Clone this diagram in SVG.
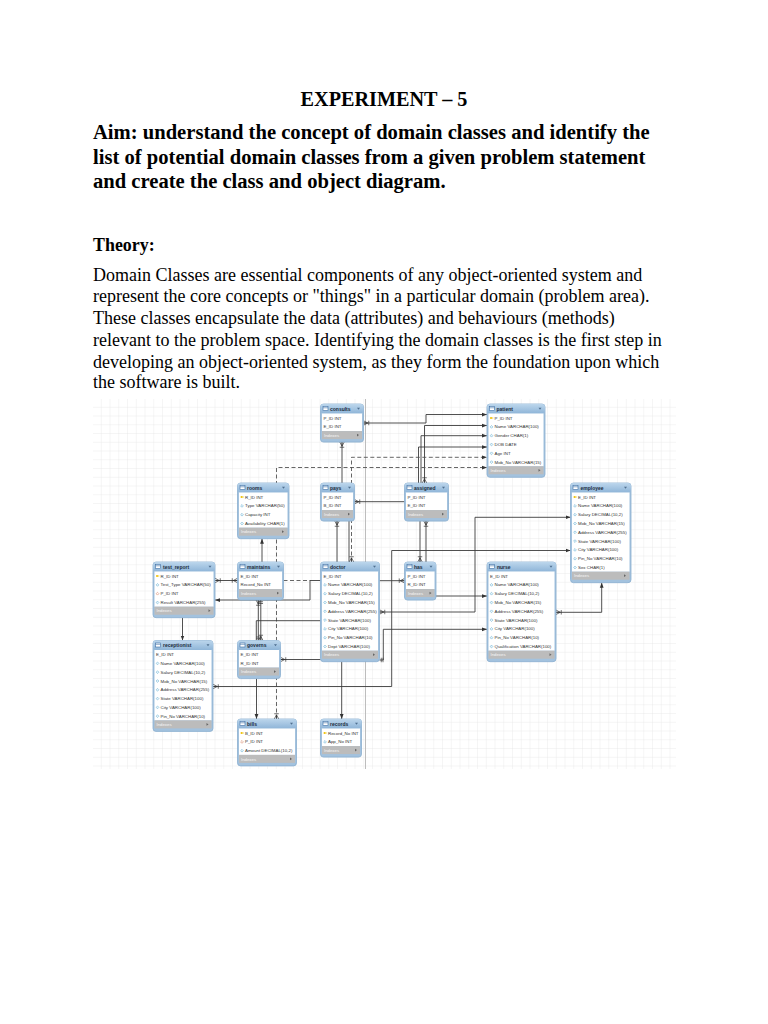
<svg xmlns="http://www.w3.org/2000/svg" xmlns:xlink="http://www.w3.org/1999/xlink" width="768" height="1024" viewBox="0 0 768 1024">
<style>
.h0{font:bold 20.2px "Liberation Serif",serif;fill:#000}
.h1{font:bold 20.6px "Liberation Serif",serif;fill:#000}
.h2{font:bold 17.9px "Liberation Serif",serif;fill:#000}
.p{font:18px "Liberation Serif",serif;fill:#000}
.tb{fill:#a3c2de;stroke:#8aaecf;stroke-width:.8}
.hd{fill:url(#hg)}
.bd{fill:#fff}
.ft{fill:#bcbcbc}
.tt{font:bold 5px "Liberation Sans",sans-serif;fill:#1b2b3b}
.rw{font:4.4px "Liberation Sans",sans-serif;fill:#333}
.ix{font:4.3px "Liberation Sans",sans-serif;fill:#f6f6f6}
.cn{fill:none;stroke:#3c3c3c;stroke-width:.9}
.ds{stroke-dasharray:4 2.5;stroke:#555}
</style>
<defs>
<linearGradient id="hg" x1="0" y1="0" x2="0" y2="1"><stop offset="0" stop-color="#bcd6ec"/><stop offset="1" stop-color="#8fb5d8"/></linearGradient>
<pattern id="grid" width="8.75" height="8.75" patternUnits="userSpaceOnUse" x="93" y="399"><path d="M8.75,0 V8.75 H0" fill="none" stroke="#dedede" stroke-width="0.6"/></pattern>
<marker id="crow" viewBox="0 0 10 8" refX="10" refY="4" markerWidth="7" markerHeight="5.6" markerUnits="userSpaceOnUse" orient="auto-start-reverse"><path d="M10,0.8 L4,4 L10,7.2 M4,4 H10 M2.5,0.8 V7.2" fill="none" stroke="#333" stroke-width="1"/></marker>
<marker id="arr" viewBox="0 0 8 8" refX="8" refY="4" markerWidth="5" markerHeight="5" markerUnits="userSpaceOnUse" orient="auto-start-reverse"><path d="M0,1 L8,4 L0,7 z" fill="#333"/></marker>
<marker id="one" viewBox="0 0 10 8" refX="10" refY="4" markerWidth="7" markerHeight="5.6" markerUnits="userSpaceOnUse" orient="auto-start-reverse"><path d="M5,0.8 V7.2 M7.5,0.8 V7.2" fill="none" stroke="#333" stroke-width="1"/></marker>
<g id="key"><circle cx="0" cy="0" r="1" fill="#efc000"/><rect x="0.5" y="-0.4" width="1.8" height="0.8" fill="#efc000"/></g>
<path id="dia" d="M0,-1.4 L1.4,0 L0,1.4 L-1.4,0 Z" fill="#eaf6fb" stroke="#58a6cc" stroke-width="0.5"/>
<path id="fk" d="M0,-1.4 L1.4,0 L0,1.4 L-1.4,0 Z" fill="#fff" stroke="#d0704c" stroke-width="0.5"/>
<g id="hic"><rect x="0" y="0" width="5" height="4" fill="#fff" stroke="#3d6ea5" stroke-width="0.6"/><line x1="0" y1="1.3" x2="5" y2="1.3" stroke="#3d6ea5" stroke-width="0.6"/></g>
<path id="dn" d="M0,0 H3 L1.5,2 Z" fill="#4f6f8f"/>
<path id="rt" d="M0,0 L2,1.4 L0,2.8 Z" fill="#666"/>
</defs>
<rect width="768" height="1024" fill="#fff"/>
<text class="h0" x="384" y="106" text-anchor="middle">EXPERIMENT – 5</text>
<text class="h1" x="93" y="139">Aim: understand the concept of domain classes and identify the</text>
<text class="h1" x="93" y="163.5">list of potential domain classes from a given problem statement</text>
<text class="h1" x="93" y="188">and create the class and object diagram.</text>
<text class="h2" x="93" y="251">Theory:</text>
<text class="p" x="93" y="280.5">Domain Classes are essential components of any object-oriented system and</text>
<text class="p" x="93" y="302.3">represent the core concepts or "things" in a particular domain (problem area).</text>
<text class="p" x="93" y="324.1">These classes encapsulate the data (attributes) and behaviours (methods)</text>
<text class="p" x="93" y="345.9">relevant to the problem space. Identifying the domain classes is the first step in</text>
<text class="p" x="93" y="367.7">developing an object-oriented system, as they form the foundation upon which</text>
<text class="p" x="93" y="388">the software is built.</text>
<g id="canvas">
<rect x="93" y="399" width="583" height="370" fill="url(#grid)"/>
<line x1="365.5" y1="399" x2="365.5" y2="769" stroke="#bdbdbd" stroke-width="1"/>
</g>
<g id="connectors">
<path class="cn" d="M363.5,423 H426 V414.5 H487" marker-start="url(#crow)" marker-end="url(#arr)"/>
<path class="cn" d="M424.5,483 V425.5 H487" marker-start="url(#crow)" marker-end="url(#arr)"/>
<path class="cn" d="M421,483 V435.7 H487" marker-end="url(#arr)"/>
<path class="cn" d="M418.5,483 V447 H487" marker-end="url(#arr)"/>
<path class="cn ds" d="M351.5,562 V457.3 H487" marker-start="url(#crow)" marker-end="url(#arr)"/>
<path class="cn ds" d="M276.5,719 V467.5 H487" marker-start="url(#crow)" marker-end="url(#arr)"/>
<path class="cn" d="M342,442 V483" marker-start="url(#crow)"/>
<path class="cn" d="M337,521 V562" marker-start="url(#crow)"/>
<path class="cn" d="M349,521 V562"/>
<path class="cn" d="M404.5,501.7 H354.5" marker-end="url(#crow)"/>
<path class="cn" d="M426,521 V562" marker-start="url(#crow)"/>
<path class="cn" d="M420,521 V562" marker-end="url(#crow)"/>
<path class="cn" d="M262,562 V538.7" marker-end="url(#arr)"/>
<path class="cn" d="M215,580.5 H237.5" marker-start="url(#crow)" marker-end="url(#crow)"/>
<path class="cn ds" d="M283.5,580.5 H310"/>
<path class="cn" d="M320.5,580.5 H310 V600 H215" marker-end="url(#arr)"/>
<path class="cn" d="M258.3,600 V640.5" marker-start="url(#crow)" marker-end="url(#one)"/>
<path class="cn" d="M260.8,600 V640.5" marker-start="url(#one)" marker-end="url(#crow)"/>
<path class="cn" d="M320.5,620.7 H256.3 V640.5"/>
<path class="cn" d="M320.5,659.5 H280.5" marker-end="url(#crow)"/>
<path class="cn" d="M256.5,678.6 V719" marker-end="url(#arr)"/>
<path class="cn" d="M341.7,661.7 V719" marker-end="url(#arr)"/>
<path class="cn" d="M182.5,617.7 V640.5" marker-end="url(#arr)"/>
<path class="cn" d="M379.5,580.7 H404.5" marker-end="url(#crow)"/>
<path class="cn" d="M436,596 H487" marker-end="url(#arr)"/>
<path class="cn" d="M379.5,612 H475 V517.3 H570.5" marker-start="url(#crow)" marker-end="url(#arr)"/>
<path class="cn" d="M379.5,660 H383.3 V629.3 H487" marker-start="url(#one)" marker-end="url(#arr)"/>
<path class="cn" d="M213,686.5 H391.7 V550.5 H570.5" marker-start="url(#crow)" marker-end="url(#arr)"/>
<path class="cn" d="M556,612.3 H601.7 V582.7" marker-start="url(#crow)" marker-end="url(#arr)"/>
</g>
<g id="consults">
<rect class="tb" x="320.5" y="404" width="43" height="38.1" rx="3"/>
<rect class="hd" x="320.5" y="404" width="43" height="9.5" rx="3"/>
<rect class="bd" x="322" y="413.5" width="40" height="17.6"/>
<rect class="ft" x="322" y="431.1" width="40" height="8"/>
<use href="#hic" x="323" y="406.5"/>
<text class="tt" x="330" y="410.8">consults</text>
<use href="#dn" x="357" y="407.8"/>
<text class="rw" x="323.5" y="419.6">P_ID INT</text>
<text class="rw" x="323.5" y="428.4">E_ID INT</text>
<text class="ix" x="324" y="436.8">Indexes</text>
<use href="#rt" x="357" y="433.7"/>
</g>
<g id="patient">
<rect class="tb" x="487" y="404" width="58" height="73.3" rx="3"/>
<rect class="hd" x="487" y="404" width="58" height="9.5" rx="3"/>
<rect class="bd" x="488.5" y="413.5" width="55" height="52.8"/>
<rect class="ft" x="488.5" y="466.3" width="55" height="8"/>
<use href="#hic" x="489.5" y="406.5"/>
<text class="tt" x="496.5" y="410.8">patient</text>
<use href="#dn" x="538.5" y="407.8"/>
<use href="#key" x="491" y="418"/><text class="rw" x="494.5" y="419.6">P_ID INT</text>
<use href="#dia" x="491.5" y="426.9"/><text class="rw" x="494.5" y="428.4">Name VARCHAR(100)</text>
<use href="#dia" x="491.5" y="435.7"/><text class="rw" x="494.5" y="437.2">Gender CHAR(1)</text>
<use href="#dia" x="491.5" y="444.5"/><text class="rw" x="494.5" y="446">DOB DATE</text>
<use href="#dia" x="491.5" y="453.3"/><text class="rw" x="494.5" y="454.8">Age INT</text>
<use href="#dia" x="491.5" y="462.1"/><text class="rw" x="494.5" y="463.6">Mob_No VARCHAR(15)</text>
<text class="ix" x="490.5" y="472">Indexes</text>
<use href="#rt" x="538.5" y="468.9"/>
</g>
<g id="rooms">
<rect class="tb" x="237.5" y="483" width="51.5" height="55.7" rx="3"/>
<rect class="hd" x="237.5" y="483" width="51.5" height="9.5" rx="3"/>
<rect class="bd" x="239" y="492.5" width="48.5" height="35.2"/>
<rect class="ft" x="239" y="527.7" width="48.5" height="8"/>
<use href="#hic" x="240" y="485.5"/>
<text class="tt" x="247" y="489.8">rooms</text>
<use href="#dn" x="282" y="486.8"/>
<use href="#key" x="241.5" y="497"/><text class="rw" x="245" y="498.6">R_ID INT</text>
<use href="#dia" x="242" y="505.9"/><text class="rw" x="245" y="507.4">Type VARCHAR(50)</text>
<use href="#dia" x="242" y="514.7"/><text class="rw" x="245" y="516.2">Capacity INT</text>
<use href="#dia" x="242" y="523.5"/><text class="rw" x="245" y="525">Availability CHAR(1)</text>
<text class="ix" x="241" y="533.4">Indexes</text>
<use href="#rt" x="282" y="530.3"/>
</g>
<g id="pays">
<rect class="tb" x="320.5" y="483" width="34" height="38.1" rx="3"/>
<rect class="hd" x="320.5" y="483" width="34" height="9.5" rx="3"/>
<rect class="bd" x="322" y="492.5" width="31" height="17.6"/>
<rect class="ft" x="322" y="510.1" width="31" height="8"/>
<use href="#hic" x="323" y="485.5"/>
<text class="tt" x="330" y="489.8">pays</text>
<use href="#dn" x="348" y="486.8"/>
<text class="rw" x="323.5" y="498.6">P_ID INT</text>
<text class="rw" x="323.5" y="507.4">B_ID INT</text>
<text class="ix" x="324" y="515.8">Indexes</text>
<use href="#rt" x="348" y="512.7"/>
</g>
<g id="assigned">
<rect class="tb" x="404.5" y="483" width="44" height="38.1" rx="3"/>
<rect class="hd" x="404.5" y="483" width="44" height="9.5" rx="3"/>
<rect class="bd" x="406" y="492.5" width="41" height="17.6"/>
<rect class="ft" x="406" y="510.1" width="41" height="8"/>
<use href="#hic" x="407" y="485.5"/>
<text class="tt" x="414" y="489.8">assigned</text>
<use href="#dn" x="442" y="486.8"/>
<text class="rw" x="407.5" y="498.6">P_ID INT</text>
<text class="rw" x="407.5" y="507.4">E_ID INT</text>
<text class="ix" x="408" y="515.8">Indexes</text>
<use href="#rt" x="442" y="512.7"/>
</g>
<g id="employee">
<rect class="tb" x="570.5" y="483" width="60.5" height="99.7" rx="3"/>
<rect class="hd" x="570.5" y="483" width="60.5" height="9.5" rx="3"/>
<rect class="bd" x="572" y="492.5" width="57.5" height="79.2"/>
<rect class="ft" x="572" y="571.7" width="57.5" height="8"/>
<use href="#hic" x="573" y="485.5"/>
<text class="tt" x="580.5" y="489.8">employee</text>
<use href="#dn" x="624" y="486.8"/>
<use href="#key" x="574.5" y="497"/><text class="rw" x="578" y="498.6">E_ID INT</text>
<use href="#dia" x="575" y="505.9"/><text class="rw" x="578" y="507.4">Name VARCHAR(100)</text>
<use href="#dia" x="575" y="514.7"/><text class="rw" x="578" y="516.2">Salary DECIMAL(10,2)</text>
<use href="#dia" x="575" y="523.5"/><text class="rw" x="578" y="525">Mob_No VARCHAR(15)</text>
<use href="#dia" x="575" y="532.3"/><text class="rw" x="578" y="533.8">Address VARCHAR(255)</text>
<use href="#dia" x="575" y="541.1"/><text class="rw" x="578" y="542.6">State VARCHAR(100)</text>
<use href="#dia" x="575" y="549.9"/><text class="rw" x="578" y="551.4">City VARCHAR(100)</text>
<use href="#dia" x="575" y="558.7"/><text class="rw" x="578" y="560.2">Pin_No VARCHAR(10)</text>
<use href="#dia" x="575" y="567.5"/><text class="rw" x="578" y="569">Sex CHAR(1)</text>
<text class="ix" x="574" y="577.4">Indexes</text>
<use href="#rt" x="624" y="574.3"/>
</g>
<g id="test_report">
<rect class="tb" x="153" y="562" width="62" height="55.7" rx="3"/>
<rect class="hd" x="153" y="562" width="62" height="9.5" rx="3"/>
<rect class="bd" x="154.5" y="571.5" width="59" height="35.2"/>
<rect class="ft" x="154.5" y="606.7" width="59" height="8"/>
<use href="#hic" x="155.5" y="564.5"/>
<text class="tt" x="163" y="568.8">test_report</text>
<use href="#dn" x="208.5" y="565.8"/>
<use href="#key" x="157" y="576"/><text class="rw" x="160.5" y="577.6">R_ID INT</text>
<use href="#dia" x="157.5" y="584.9"/><text class="rw" x="160.5" y="586.4">Test_Type VARCHAR(50)</text>
<use href="#fk" x="157.5" y="593.7"/><text class="rw" x="160.5" y="595.2">P_ID INT</text>
<use href="#dia" x="157.5" y="602.5"/><text class="rw" x="160.5" y="604">Result VARCHAR(255)</text>
<text class="ix" x="156.5" y="612.4">Indexes</text>
<use href="#rt" x="208.5" y="609.3"/>
</g>
<g id="maintains">
<rect class="tb" x="237.5" y="562" width="46" height="38.1" rx="3"/>
<rect class="hd" x="237.5" y="562" width="46" height="9.5" rx="3"/>
<rect class="bd" x="239" y="571.5" width="43" height="17.6"/>
<rect class="ft" x="239" y="589.1" width="43" height="8"/>
<use href="#hic" x="240" y="564.5"/>
<text class="tt" x="247" y="568.8">maintains</text>
<use href="#dn" x="277" y="565.8"/>
<text class="rw" x="240.5" y="577.6">E_ID INT</text>
<text class="rw" x="240.5" y="586.4">Record_No INT</text>
<text class="ix" x="241" y="594.8">Indexes</text>
<use href="#rt" x="277" y="591.7"/>
</g>
<g id="doctor">
<rect class="tb" x="320.5" y="562" width="59" height="99.7" rx="3"/>
<rect class="hd" x="320.5" y="562" width="59" height="9.5" rx="3"/>
<rect class="bd" x="322" y="571.5" width="56" height="79.2"/>
<rect class="ft" x="322" y="650.7" width="56" height="8"/>
<use href="#hic" x="323" y="564.5"/>
<text class="tt" x="330" y="568.8">doctor</text>
<use href="#dn" x="373" y="565.8"/>
<text class="rw" x="323.5" y="577.6">E_ID INT</text>
<use href="#dia" x="325" y="584.9"/><text class="rw" x="328" y="586.4">Name VARCHAR(100)</text>
<use href="#dia" x="325" y="593.7"/><text class="rw" x="328" y="595.2">Salary DECIMAL(10,2)</text>
<use href="#dia" x="325" y="602.5"/><text class="rw" x="328" y="604">Mob_No VARCHAR(15)</text>
<use href="#dia" x="325" y="611.3"/><text class="rw" x="328" y="612.8">Address VARCHAR(255)</text>
<use href="#dia" x="325" y="620.1"/><text class="rw" x="328" y="621.6">State VARCHAR(100)</text>
<use href="#dia" x="325" y="628.9"/><text class="rw" x="328" y="630.4">City VARCHAR(100)</text>
<use href="#dia" x="325" y="637.7"/><text class="rw" x="328" y="639.2">Pin_No VARCHAR(10)</text>
<use href="#dia" x="325" y="646.5"/><text class="rw" x="328" y="648">Dept VARCHAR(100)</text>
<text class="ix" x="324" y="656.4">Indexes</text>
<use href="#rt" x="373" y="653.3"/>
</g>
<g id="has">
<rect class="tb" x="404.5" y="562" width="31.5" height="38.1" rx="3"/>
<rect class="hd" x="404.5" y="562" width="31.5" height="9.5" rx="3"/>
<rect class="bd" x="406" y="571.5" width="28.5" height="17.6"/>
<rect class="ft" x="406" y="589.1" width="28.5" height="8"/>
<use href="#hic" x="407" y="564.5"/>
<text class="tt" x="414" y="568.8">has</text>
<use href="#dn" x="429.5" y="565.8"/>
<text class="rw" x="407.5" y="577.6">P_ID INT</text>
<text class="rw" x="407.5" y="586.4">R_ID INT</text>
<text class="ix" x="408" y="594.8">Indexes</text>
<use href="#rt" x="429.5" y="591.7"/>
</g>
<g id="nurse">
<rect class="tb" x="487" y="562" width="69" height="99.7" rx="3"/>
<rect class="hd" x="487" y="562" width="69" height="9.5" rx="3"/>
<rect class="bd" x="488.5" y="571.5" width="66" height="79.2"/>
<rect class="ft" x="488.5" y="650.7" width="66" height="8"/>
<use href="#hic" x="489.5" y="564.5"/>
<text class="tt" x="497" y="568.8">nurse</text>
<use href="#dn" x="549.5" y="565.8"/>
<text class="rw" x="490" y="577.6">E_ID INT</text>
<use href="#dia" x="491.5" y="584.9"/><text class="rw" x="494.5" y="586.4">Name VARCHAR(100)</text>
<use href="#dia" x="491.5" y="593.7"/><text class="rw" x="494.5" y="595.2">Salary DECIMAL(10,2)</text>
<use href="#dia" x="491.5" y="602.5"/><text class="rw" x="494.5" y="604">Mob_No VARCHAR(15)</text>
<use href="#dia" x="491.5" y="611.3"/><text class="rw" x="494.5" y="612.8">Address VARCHAR(255)</text>
<use href="#dia" x="491.5" y="620.1"/><text class="rw" x="494.5" y="621.6">State VARCHAR(100)</text>
<use href="#dia" x="491.5" y="628.9"/><text class="rw" x="494.5" y="630.4">City VARCHAR(100)</text>
<use href="#dia" x="491.5" y="637.7"/><text class="rw" x="494.5" y="639.2">Pin_No VARCHAR(10)</text>
<use href="#dia" x="491.5" y="646.5"/><text class="rw" x="494.5" y="648">Qualification VARCHAR(100)</text>
<text class="ix" x="490.5" y="656.4">Indexes</text>
<use href="#rt" x="549.5" y="653.3"/>
</g>
<g id="receptionist">
<rect class="tb" x="153" y="640.5" width="60" height="90.9" rx="3"/>
<rect class="hd" x="153" y="640.5" width="60" height="9.5" rx="3"/>
<rect class="bd" x="154.5" y="650" width="57" height="70.4"/>
<rect class="ft" x="154.5" y="720.4" width="57" height="8"/>
<use href="#hic" x="155.5" y="643"/>
<text class="tt" x="163" y="647.3">receptionist</text>
<use href="#dn" x="206.5" y="644.3"/>
<text class="rw" x="156" y="656.1">E_ID INT</text>
<use href="#dia" x="157.5" y="663.4"/><text class="rw" x="160.5" y="664.9">Name VARCHAR(100)</text>
<use href="#dia" x="157.5" y="672.2"/><text class="rw" x="160.5" y="673.7">Salary DECIMAL(10,2)</text>
<use href="#dia" x="157.5" y="681"/><text class="rw" x="160.5" y="682.5">Mob_No VARCHAR(15)</text>
<use href="#dia" x="157.5" y="689.8"/><text class="rw" x="160.5" y="691.3">Address VARCHAR(255)</text>
<use href="#dia" x="157.5" y="698.6"/><text class="rw" x="160.5" y="700.1">State VARCHAR(100)</text>
<use href="#dia" x="157.5" y="707.4"/><text class="rw" x="160.5" y="708.9">City VARCHAR(100)</text>
<use href="#dia" x="157.5" y="716.2"/><text class="rw" x="160.5" y="717.7">Pin_No VARCHAR(10)</text>
<text class="ix" x="156.5" y="726.1">Indexes</text>
<use href="#rt" x="206.5" y="723"/>
</g>
<g id="governs">
<rect class="tb" x="237.5" y="640.5" width="43" height="38.1" rx="3"/>
<rect class="hd" x="237.5" y="640.5" width="43" height="9.5" rx="3"/>
<rect class="bd" x="239" y="650" width="40" height="17.6"/>
<rect class="ft" x="239" y="667.6" width="40" height="8"/>
<use href="#hic" x="240" y="643"/>
<text class="tt" x="247" y="647.3">governs</text>
<use href="#dn" x="274" y="644.3"/>
<text class="rw" x="240.5" y="656.1">E_ID INT</text>
<text class="rw" x="240.5" y="664.9">R_ID INT</text>
<text class="ix" x="241" y="673.3">Indexes</text>
<use href="#rt" x="274" y="670.2"/>
</g>
<g id="bills">
<rect class="tb" x="237.5" y="719" width="59" height="46.9" rx="3"/>
<rect class="hd" x="237.5" y="719" width="59" height="9.5" rx="3"/>
<rect class="bd" x="239" y="728.5" width="56" height="26.4"/>
<rect class="ft" x="239" y="754.9" width="56" height="8"/>
<use href="#hic" x="240" y="721.5"/>
<text class="tt" x="247" y="725.8">bills</text>
<use href="#dn" x="290" y="722.8"/>
<use href="#key" x="241.5" y="733"/><text class="rw" x="245" y="734.6">B_ID INT</text>
<use href="#fk" x="242" y="741.9"/><text class="rw" x="245" y="743.4">P_ID INT</text>
<use href="#dia" x="242" y="750.7"/><text class="rw" x="245" y="752.2">Amount DECIMAL(10,2)</text>
<text class="ix" x="241" y="760.6">Indexes</text>
<use href="#rt" x="290" y="757.5"/>
</g>
<g id="records">
<rect class="tb" x="320.5" y="719" width="41" height="38.1" rx="3"/>
<rect class="hd" x="320.5" y="719" width="41" height="9.5" rx="3"/>
<rect class="bd" x="322" y="728.5" width="38" height="17.6"/>
<rect class="ft" x="322" y="746.1" width="38" height="8"/>
<use href="#hic" x="323" y="721.5"/>
<text class="tt" x="330" y="725.8">records</text>
<use href="#dn" x="355" y="722.8"/>
<use href="#key" x="324.5" y="733"/><text class="rw" x="328" y="734.6">Record_No INT</text>
<use href="#dia" x="325" y="741.9"/><text class="rw" x="328" y="743.4">App_No INT</text>
<text class="ix" x="324" y="751.8">Indexes</text>
<use href="#rt" x="355" y="748.7"/>
</g>
</svg>
